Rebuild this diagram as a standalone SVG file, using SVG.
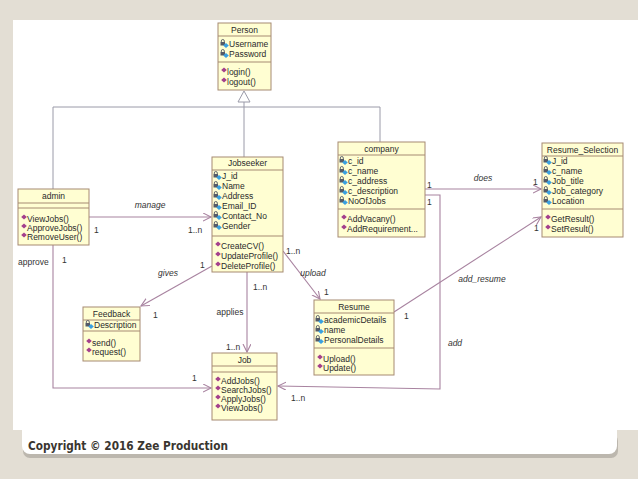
<svg xmlns="http://www.w3.org/2000/svg" width="638" height="479" viewBox="0 0 638 479">
<style>
.box{fill:#fffed2;stroke:#a68a72;stroke-width:1}
.sep{stroke:#a68a72;stroke-width:1}
.t{font-family:"Liberation Sans",Arial,sans-serif;font-size:8.5px;fill:#2a2a2a}
.c{text-anchor:middle}
.lbl{font-family:"Liberation Sans",Arial,sans-serif;font-size:8.5px;fill:#333}
.it{font-style:italic}
.ln{fill:none;stroke:#a883a0;stroke-width:1.1}
.gen{fill:none;stroke:#9a9aa8;stroke-width:1}
</style>
<defs>
<marker id="arr" markerWidth="10" markerHeight="10" refX="8" refY="4" orient="auto" markerUnits="userSpaceOnUse">
<path d="M0,0 L8,4 L0,8" fill="none" stroke="#a883a0" stroke-width="1.1"/>
</marker>
<symbol id="ai" viewBox="0 0 9 8" width="9" height="8" overflow="visible">
<rect x="0.5" y="2" width="4.5" height="3.5" fill="#555a66"/>
<path d="M1.3,2 V1 a1.5,1.5 0 0 1 3,0 V2" fill="none" stroke="#555a66" stroke-width="0.9"/>
<path d="M6,3 L8.8,5.5 L6,8 L3.2,5.5 Z" fill="#3aa0e0"/>
</symbol>
<symbol id="mi" viewBox="0 0 6 6" width="6" height="6" overflow="visible">
<path d="M3,0.5 L5.8,3 L3,5.5 L0.2,3 Z" fill="#a4408c"/>
</symbol>
</defs>
<rect x="0" y="0" width="638" height="479" fill="#e3ded4"/>
<rect x="13" y="20" width="625" height="410" fill="#ffffff"/>
<rect x="23" y="434" width="595" height="24" rx="7" fill="#8c8880" opacity="0.45"/>
<path d="M22,428 H617 V446 a8,8 0 0 1 -8,8 H30 a8,8 0 0 1 -8,-8 Z" fill="#ffffff"/>
<text x="28" y="450" font-family="DejaVu Sans,Verdana,sans-serif" font-weight="bold" font-size="11.5" fill="#3a3630" textLength="200" lengthAdjust="spacingAndGlyphs">Copyright © 2016 Zee Production</text>

<g id="connectors">
<path class="gen" d="M244,102 V107 M53,189 V107 H380 V142 M244,107 V157"/>
<polygon points="244,91 238,102 250,102" fill="#ffffff" stroke="#9a9aa8" stroke-width="1"/>
<path class="ln" d="M89,217 H211" marker-end="url(#arr)"/>
<path class="ln" d="M212,266 L141,306" marker-end="url(#arr)"/>
<path class="ln" d="M247,272 V352" marker-end="url(#arr)"/>
<path class="ln" d="M283,251 L320,299" marker-end="url(#arr)"/>
<path class="ln" d="M53,245 V388 H211" marker-end="url(#arr)"/>
<path class="ln" d="M425,189 H541" marker-end="url(#arr)"/>
<path class="ln" d="M425,195 H440 V389 L278,386" marker-end="url(#arr)"/>
<path class="ln" d="M394,312 L541,217" marker-end="url(#arr)"/>
<text class="lbl it c" x="150" y="208">manage</text>
<text class="lbl" x="94" y="233">1</text>
<text class="lbl" x="188" y="233">1..n</text>
<text class="lbl it c" x="168" y="276">gives</text>
<text class="lbl" x="200" y="268">1</text>
<text class="lbl" x="153" y="318">1</text>
<text class="lbl" x="253" y="290">1..n</text>
<text class="lbl c" x="230" y="315">applies</text>
<text class="lbl" x="226" y="350">1..n</text>
<text class="lbl it c" x="313" y="276">upload</text>
<text class="lbl" x="286" y="254">1..n</text>
<text class="lbl" x="324" y="295">1</text>
<text class="lbl" x="18" y="265">approve</text>
<text class="lbl" x="62" y="263">1</text>
<text class="lbl" x="192" y="381">1</text>
<text class="lbl" x="427" y="188">1</text>
<text class="lbl it c" x="483" y="181">does</text>
<text class="lbl" x="533" y="185">1</text>
<text class="lbl" x="427" y="205">1</text>
<text class="lbl it c" x="455" y="346">add</text>
<text class="lbl" x="291" y="401">1..n</text>
<text class="lbl" x="404" y="319">1</text>
<text class="lbl it c" x="482" y="282">add_resume</text>
<text class="lbl" x="534" y="231">1</text>
</g>

<g id="person">
<rect class="box" x="218" y="23" width="53" height="67"/>
<line class="sep" x1="218" y1="36" x2="271" y2="36"/>
<line class="sep" x1="218" y1="62" x2="271" y2="62"/>
<text class="t c" x="244.5" y="33">Person</text>
<use href="#ai" x="220" y="40"/><text class="t" x="229" y="47">Username</text>
<use href="#ai" x="220" y="50"/><text class="t" x="229" y="57">Password</text>
<use href="#mi" x="221" y="67"/><text class="t" x="227" y="75">login()</text>
<use href="#mi" x="221" y="77"/><text class="t" x="227" y="85">logout()</text>
</g>

<g id="admin">
<rect class="box" x="18" y="189" width="71" height="56"/>
<line class="sep" x1="18" y1="203" x2="89" y2="203"/>
<line class="sep" x1="18" y1="208" x2="89" y2="208"/>
<text class="t c" x="53.5" y="199">admin</text>
<use href="#mi" x="21" y="214"/><text class="t" x="27" y="222">ViewJobs()</text>
<use href="#mi" x="21" y="223"/><text class="t" x="27" y="231">ApproveJobs()</text>
<use href="#mi" x="21" y="232"/><text class="t" x="27" y="240">RemoveUser()</text>
</g>

<g id="jobseeker">
<rect class="box" x="212" y="157" width="71" height="115"/>
<line class="sep" x1="212" y1="170" x2="283" y2="170"/>
<line class="sep" x1="212" y1="236" x2="283" y2="236"/>
<text class="t c" x="247.5" y="166">Jobseeker</text>
<use href="#ai" x="213" y="172"/><text class="t" x="222" y="179">J_id</text>
<use href="#ai" x="213" y="182"/><text class="t" x="222" y="189">Name</text>
<use href="#ai" x="213" y="192"/><text class="t" x="222" y="199">Address</text>
<use href="#ai" x="213" y="202"/><text class="t" x="222" y="209">Email_ID</text>
<use href="#ai" x="213" y="212"/><text class="t" x="222" y="219">Contact_No</text>
<use href="#ai" x="213" y="222"/><text class="t" x="222" y="229">Gender</text>
<use href="#mi" x="215" y="241"/><text class="t" x="221" y="249">CreateCV()</text>
<use href="#mi" x="215" y="251"/><text class="t" x="221" y="259">UpdateProfile()</text>
<use href="#mi" x="215" y="261"/><text class="t" x="221" y="269">DeleteProfile()</text>
</g>

<g id="company">
<rect class="box" x="338" y="142" width="87" height="95"/>
<line class="sep" x1="338" y1="155" x2="425" y2="155"/>
<line class="sep" x1="338" y1="209" x2="425" y2="209"/>
<text class="t c" x="381.5" y="152">company</text>
<use href="#ai" x="339" y="157"/><text class="t" x="348" y="164">c_id</text>
<use href="#ai" x="339" y="167"/><text class="t" x="348" y="174">c_name</text>
<use href="#ai" x="339" y="177"/><text class="t" x="348" y="184">c_address</text>
<use href="#ai" x="339" y="187"/><text class="t" x="348" y="194">c_description</text>
<use href="#ai" x="339" y="197"/><text class="t" x="348" y="204">NoOfJobs</text>
<use href="#mi" x="341" y="214"/><text class="t" x="347" y="222">AddVacany()</text>
<use href="#mi" x="341" y="224"/><text class="t" x="347" y="232">AddRequirement...</text>
</g>

<g id="resume_selection">
<rect class="box" x="542" y="143" width="81" height="94"/>
<line class="sep" x1="542" y1="156" x2="623" y2="156"/>
<line class="sep" x1="542" y1="209" x2="623" y2="209"/>
<text class="t c" x="582.5" y="153">Resume_Selection</text>
<use href="#ai" x="543" y="157"/><text class="t" x="552" y="164">J_id</text>
<use href="#ai" x="543" y="167"/><text class="t" x="552" y="174">c_name</text>
<use href="#ai" x="543" y="177"/><text class="t" x="552" y="184">Job_title</text>
<use href="#ai" x="543" y="187"/><text class="t" x="552" y="194">Job_category</text>
<use href="#ai" x="543" y="197"/><text class="t" x="552" y="204">Location</text>
<use href="#mi" x="545" y="214"/><text class="t" x="551" y="222">GetResult()</text>
<use href="#mi" x="545" y="224"/><text class="t" x="551" y="232">SetResult()</text>
</g>

<g id="feedback">
<rect class="box" x="83" y="307" width="57" height="54"/>
<line class="sep" x1="83" y1="320" x2="140" y2="320"/>
<line class="sep" x1="83" y1="331" x2="140" y2="331"/>
<text class="t c" x="111.5" y="317">Feedback</text>
<use href="#ai" x="85" y="321"/><text class="t" x="94" y="328">Description</text>
<use href="#mi" x="86" y="338"/><text class="t" x="92" y="346">send()</text>
<use href="#mi" x="86" y="347"/><text class="t" x="92" y="355">request()</text>
</g>

<g id="resume">
<rect class="box" x="314" y="300" width="80" height="75"/>
<line class="sep" x1="314" y1="313" x2="394" y2="313"/>
<line class="sep" x1="314" y1="348" x2="394" y2="348"/>
<text class="t c" x="354" y="310">Resume</text>
<use href="#ai" x="315" y="316"/><text class="t" x="324" y="323">academicDetails</text>
<use href="#ai" x="315" y="326"/><text class="t" x="324" y="333">name</text>
<use href="#ai" x="315" y="336"/><text class="t" x="324" y="343">PersonalDetails</text>
<use href="#mi" x="317" y="354"/><text class="t" x="323" y="362">Upload()</text>
<use href="#mi" x="317" y="363"/><text class="t" x="323" y="371">Update()</text>
</g>

<g id="job">
<rect class="box" x="212" y="353" width="65" height="67"/>
<line class="sep" x1="212" y1="366" x2="277" y2="366"/>
<line class="sep" x1="212" y1="372" x2="277" y2="372"/>
<text class="t c" x="244.5" y="363">Job</text>
<use href="#mi" x="215" y="376"/><text class="t" x="221" y="384">AddJobs()</text>
<use href="#mi" x="215" y="385"/><text class="t" x="221" y="393">SearchJobs()</text>
<use href="#mi" x="215" y="394"/><text class="t" x="221" y="402">ApplyJobs()</text>
<use href="#mi" x="215" y="403"/><text class="t" x="221" y="411">ViewJobs()</text>
</g>
</svg>
